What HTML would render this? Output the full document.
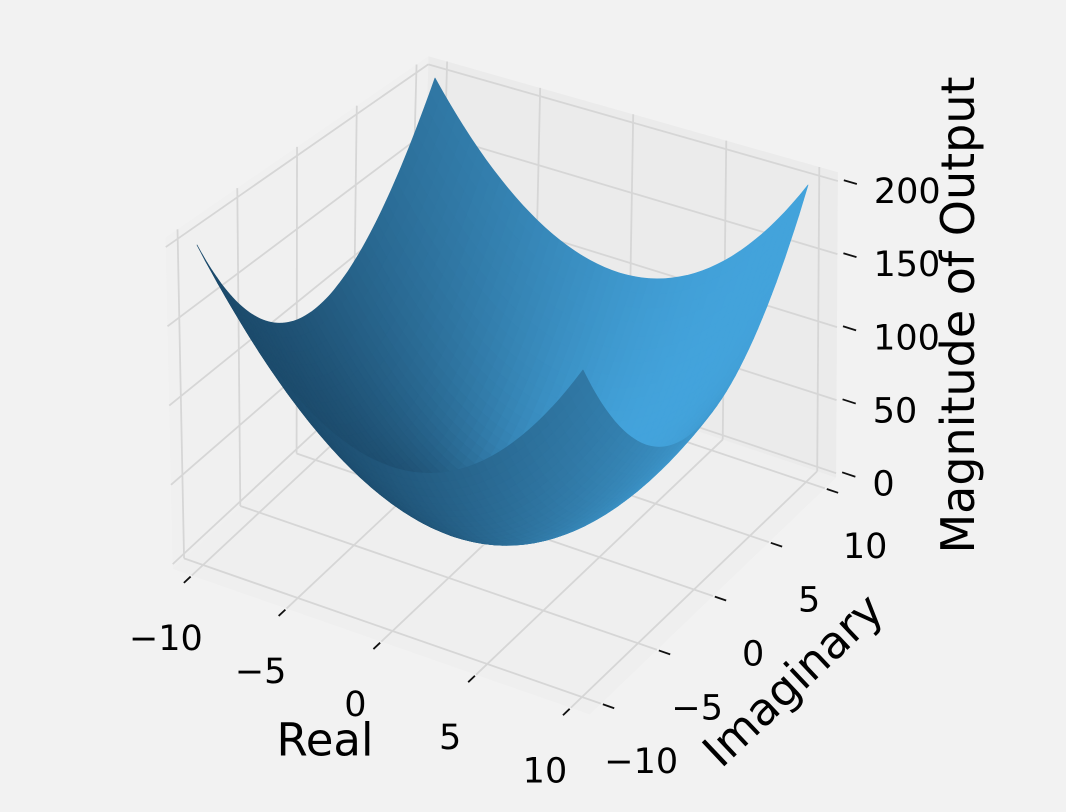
<!DOCTYPE html>
<html><head><meta charset="utf-8">
<style>
html,body{margin:0;padding:0;background:#f2f2f2;}
svg{display:block;font-family:"DejaVu Sans","Liberation Sans",sans-serif;}
</style></head>
<body>
<svg id="chart" width="1066" height="812" viewBox="0 0 1066 812" xmlns="http://www.w3.org/2000/svg">
<rect x="0" y="0" width="1066" height="812" fill="#f2f2f2"/>
<g id="panes"></g>
<g id="grid"></g>
<g id="surface"></g>
<g id="ticks"></g>
<text x="325" y="740" font-size="45" text-anchor="middle" dominant-baseline="central" fill="#000">Real</text>
<text x="793" y="680" font-size="45" text-anchor="middle" dominant-baseline="central" fill="#000" transform="rotate(-43.4 793 680)">Imaginary</text>
<text x="958" y="315" font-size="46" text-anchor="middle" dominant-baseline="central" fill="#000" transform="rotate(-90 958 315)">Magnitude of Output</text>
</svg>
<script>
// ---- data ----
const realTicks = [-10, -5, 0, 5, 10];
const imagTicks = [-10, -5, 0, 5, 10];
const magTicks = [0, 50, 100, 150, 200];
const realLabels = ["\u221210", "\u22125", "0", "5", "10"];
const imagLabels = ["\u221210", "\u22125", "0", "5", "10"];
const magLabels = ["0", "50", "100", "150", "200"];
const gridReal = [-10, -8, -6, -4, -2, 0, 2, 4, 6, 8, 10];
const gridImag = [-10, -8, -6, -4, -2, 0, 2, 4, 6, 8, 10];
// magnitude[row = imag index][col = real index]
const magnitude = [
 [200,164,136,116,104,100,104,116,136,164,200],
 [164,128,100, 80, 68, 64, 68, 80,100,128,164],
 [136,100, 72, 52, 40, 36, 40, 52, 72,100,136],
 [116, 80, 52, 32, 20, 16, 20, 32, 52, 80,116],
 [104, 68, 40, 20,  8,  4,  8, 20, 40, 68,104],
 [100, 64, 36, 16,  4,  0,  4, 16, 36, 64,100],
 [104, 68, 40, 20,  8,  4,  8, 20, 40, 68,104],
 [116, 80, 52, 32, 20, 16, 20, 32, 52, 80,116],
 [136,100, 72, 52, 40, 36, 40, 52, 72,100,136],
 [164,128,100, 80, 68, 64, 68, 80,100,128,164],
 [200,164,136,116,104,100,104,116,136,164,200]
];

// ---- projection (trilinear camera fit) ----
const XMIN=-11, XMAX=11, YMIN=-11, YMAX=11, ZL=-3, ZH=206;
const F = {A:[203,565],B:[582,697],C:[806,482],D:[428,355]};
const T = {A:[197,245],B:[583,370],C:[808,185],D:[435,78]};
function P(x,y,z){
  const u=(x+10)/20, v=(y+10)/20, w=(z-ZL)/(200-ZL);
  function bl(Q,k){return (1-u)*(1-v)*Q.A[k]+u*(1-v)*Q.B[k]+u*v*Q.C[k]+(1-u)*v*Q.D[k];}
  return [(1-w)*bl(F,0)+w*bl(T,0),(1-w)*bl(F,1)+w*bl(T,1)];
}
function depth(x,y,z){return 0.433*x/11-0.75*y/11+0.5*((z-100)/104)*0.75;}
const NS="http://www.w3.org/2000/svg";
function mk(tag,attrs,parent){const e=document.createElementNS(NS,tag);for(const k in attrs)e.setAttribute(k,attrs[k]);parent.appendChild(e);return e;}
function pts(a){return a.map(p=>{const q=P(p[0],p[1],p[2]);return q[0].toFixed(1)+","+q[1].toFixed(1);}).join(" ");}

// panes
const panes=document.getElementById('panes');
let e;
e=mk('polygon',{points:pts([[XMIN,YMIN,ZL],[XMAX,YMIN,ZL],[XMAX,YMAX,ZL],[XMIN,YMAX,ZL]]),fill:'#efefef'},panes);


e=mk('polygon',{points:pts([[XMIN,YMIN,ZL],[XMIN,YMAX,ZL],[XMIN,YMAX,ZH],[XMIN,YMIN,ZH]]),fill:'#f0f0f0'},panes);


e=mk('polygon',{points:pts([[XMIN,YMAX,ZL],[XMAX,YMAX,ZL],[XMAX,YMAX,ZH],[XMIN,YMAX,ZH]]),fill:'#ebebeb'},panes);



// grid
const grid=document.getElementById('grid');
function gl(a,b,name){const p=P(...a),q=P(...b);const l=mk('line',{x1:p[0],y1:p[1],x2:q[0],y2:q[1],stroke:'#d6d6d6','stroke-width':1.8},grid);

}
realTicks.forEach(x=>{gl([x,YMIN,ZL],[x,YMAX,ZL],'floor-grid-real');gl([x,YMAX,ZL],[x,YMAX,ZH],'back-grid-real');});
imagTicks.forEach(y=>{gl([XMIN,y,ZL],[XMAX,y,ZL],'floor-grid-imag');gl([XMIN,y,ZL],[XMIN,y,ZH],'left-grid-imag');});
magTicks.forEach(z=>{gl([XMIN,YMIN,z],[XMIN,YMAX,z],'left-grid-mag');gl([XMIN,YMAX,z],[XMAX,YMAX,z],'back-grid-mag');});

// surface: Catmull-Rom interpolation of the sampled magnitudes
const NX=gridReal.length, NY=gridImag.length;
function M(i,j){ // with quadratic extrapolation at borders
  if(i<0) return 3*M(0,j)-3*M(1,j)+M(2,j);
  if(i>NX-1) return 3*M(NX-1,j)-3*M(NX-2,j)+M(NX-3,j);
  if(j<0) return 3*M(i,0)-3*M(i,1)+M(i,2);
  if(j>NY-1) return 3*M(i,NY-1)-3*M(i,NY-2)+M(i,NY-3);
  return magnitude[j][i];
}
function cr(p0,p1,p2,p3,t){return 0.5*((2*p1)+(-p0+p2)*t+(2*p0-5*p1+4*p2-p3)*t*t+(-p0+3*p1-3*p2+p3)*t*t*t);}
function zAt(i,j,fu,fv){
  const r=[];
  for(let k=-1;k<=2;k++) r.push(cr(M(i-1,j+k),M(i,j+k),M(i+1,j+k),M(i+2,j+k),fu));
  return cr(r[0],r[1],r[2],r[3],fv);
}
const surf=document.getElementById('surface');
const SUB=5;
const quads=[];
const L=[-0.6667,-0.6667,0.3333];
for(let j=0;j<NY-1;j++){
  for(let i=0;i<NX-1;i++){
    const x0=gridReal[i],x1=gridReal[i+1],y0=gridImag[j],y1=gridImag[j+1];
    for(let b=0;b<SUB;b++)for(let a=0;a<SUB;a++){
      const fu0=a/SUB,fu1=(a+1)/SUB,fv0=b/SUB,fv1=(b+1)/SUB;
      const c=[[fu0,fv0],[fu1,fv0],[fu1,fv1],[fu0,fv1]].map(f=>[x0+(x1-x0)*f[0],y0+(y1-y0)*f[1],zAt(i,j,f[0],f[1])]);
      const d1=[c[2][0]-c[0][0],c[2][1]-c[0][1],c[2][2]-c[0][2]];
      const d2=[c[3][0]-c[1][0],c[3][1]-c[1][1],c[3][2]-c[1][2]];
      let n=[d1[1]*d2[2]-d1[2]*d2[1],d1[2]*d2[0]-d1[0]*d2[2],d1[0]*d2[1]-d1[1]*d2[0]];
      const nl=Math.hypot(...n)||1;n=n.map(v=>v/nl);
      const s=n[0]*L[0]+n[1]*L[1]+n[2]*L[2];
      const cx=c.reduce((t,p)=>t+p[0],0)/4,cy=c.reduce((t,p)=>t+p[1],0)/4,cz=c.reduce((t,p)=>t+p[2],0)/4;
      quads.push({c,s,d:depth(cx,cy,cz)});
    }
  }
}
let smin=Infinity,smax=-Infinity;quads.forEach(q=>{smin=Math.min(smin,q.s);smax=Math.max(smax,q.s);});
quads.sort((a,b)=>a.d-b.d);
const dark=[28,75,108],light=[68,165,222];
quads.forEach(q=>{
  const t=(q.s-smin)/(smax-smin);
  const col='rgb('+dark.map((v,k)=>Math.round(v+(light[k]-v)*t)).join(',')+')';
  const poly=mk('polygon',{points:pts(q.c),fill:col,stroke:col,'stroke-width':0.7,'stroke-linejoin':'round'},surf);
  
  
});

// ticks and labels
const tk=document.getElementById('ticks');
function tick(a,b,name){const p=P(...a),q=P(...b);const l=mk('line',{x1:p[0],y1:p[1],x2:q[0],y2:q[1],stroke:'#111','stroke-width':1.8},tk);

return q;}
function lab(x,y,txt,anchor,name){const t=mk('text',{x:x,y:y,'font-size':35,'text-anchor':anchor,'dominant-baseline':'central',fill:'#000'},tk);t.textContent=txt;

}
realTicks.forEach((x,k)=>{const q=tick([x,-11.1,ZL],[x,-11.7,ZL],'x-tick');lab(q[0]-18,q[1]+56,realLabels[k],'middle','x-tick-label');});
imagTicks.forEach((y,k)=>{const q=tick([11.1,y,ZL],[11.7,y,ZL],'y-tick');lab(q[0]+27,q[1]+54,imagLabels[k],'middle','y-tick-label');});
magTicks.forEach((z,k)=>{const q=tick([11.2,11.2,z],[11.9,11.2,z],'z-tick');lab(q[0]+17,q[1]+8,magLabels[k],'start','z-tick-label');});
</script>
</body></html>
